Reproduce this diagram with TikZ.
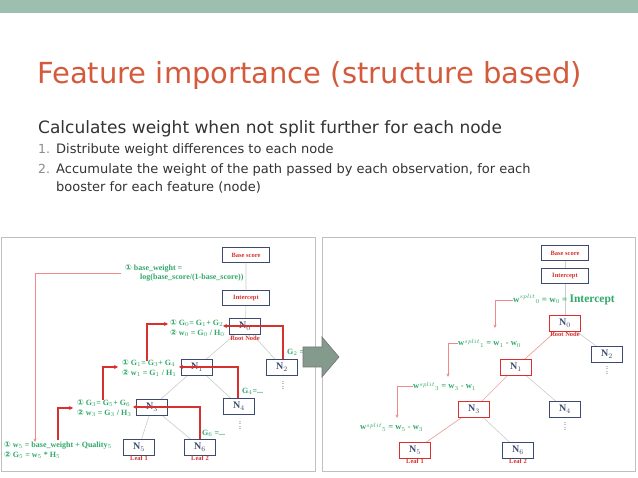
\documentclass[tikz,border=0pt]{standalone}
\usepackage{fontspec}
\setmainfont{DejaVu Sans}
\newfontfamily\tms{Liberation Serif}
\newfontfamily\dv{DejaVu Sans}
\usetikzlibrary{arrows.meta}
\definecolor{ttl}{HTML}{D45A3C}
\definecolor{grn}{HTML}{2FA86A}
\definecolor{rd}{HTML}{D8302E}
\definecolor{nv}{HTML}{3C4A6E}
\definecolor{bar}{HTML}{9CBFAF}
\definecolor{pnk}{HTML}{F08A8A}
\definecolor{marr}{HTML}{849A8C}
\begin{document}
\begin{tikzpicture}[x=1pt,y=-1pt,
 nbox/.style={draw=nv,line width=0.8pt,fill=white,minimum width=31pt,minimum height=16pt,inner sep=0pt,font=\tms\bfseries\fontsize{10}{10}\selectfont,text=nv},
 rbox/.style={nbox,draw=rd},
 sbox/.style={draw=nv,line width=0.8pt,fill=white,minimum width=47pt,minimum height=15pt,inner sep=0pt,font=\tms\bfseries\fontsize{6.5}{7}\selectfont,text=rd},
 gtxt/.style={font=\tms\bfseries\fontsize{8}{9.5}\selectfont,text=grn,inner sep=0pt,align=left},
 ltxt/.style={font=\tms\bfseries\fontsize{6.5}{7}\selectfont,text=rd,inner sep=0pt},
 glink/.style={draw=black!20,line width=0.6pt},
 rlink/.style={draw=rd!45,line width=0.7pt},
 rarr/.style={draw=rd,line width=1.3pt,-{Stealth[length=4pt,width=4pt]}},
 parr/.style={draw=pnk,line width=0.7pt,-{Stealth[length=3.5pt,width=3pt]}},
 dots/.style={font=\tms\bfseries\fontsize{6}{6}\selectfont,text=nv,inner sep=0pt,align=center},
 panel/.style={draw=black!25,line width=1pt,fill=white}]
\useasboundingbox (0,0) rectangle (638,478);
\fill[white] (0,0) rectangle (638,478);
\fill[bar] (0,0) rectangle (638,13);
\node[anchor=base west,inner sep=0pt,text=ttl,font=\fontsize{29}{30}\selectfont] (title) at (37,84) {Feature importance (structure based)};
\node[anchor=base west,inner sep=0pt,text=black!80,font=\fontsize{17}{18}\selectfont] (l0) at (38,134) {Calculates weight when not split further for each node};
\node[anchor=base west,inner sep=0pt,text=black!45,font=\fontsize{12.5}{13}\selectfont] (n1) at (38,154) {1.};
\node[anchor=base west,inner sep=0pt,text=black!80,font=\fontsize{13}{13}\selectfont] (l1) at (56,154) {Distribute weight differences to each node};
\node[anchor=base west,inner sep=0pt,text=black!45,font=\fontsize{12.5}{13}\selectfont] (n2) at (38,174) {2.};
\node[anchor=base west,inner sep=0pt,text=black!80,font=\fontsize{13}{13}\selectfont] (l2) at (56,174) {Accumulate the weight of the path passed by each observation, for each};
\node[anchor=base west,inner sep=0pt,text=black!80,font=\fontsize{13}{13}\selectfont] (l3) at (56,192) {booster for each feature (node)};
% panels
\draw[panel] (1,238) rectangle (315,472);
\draw[panel] (322,238) rectangle (635,472);
% ---------- left panel ----------
\coordinate (a0) at (245,326);
\coordinate (a1) at (197,367);
\coordinate (a2) at (282,367);
\coordinate (a3) at (152,407);
\coordinate (a4) at (239,406);
\coordinate (a5) at (139,447);
\coordinate (a6) at (200,447);
\node[sbox] (bs) at (246,255) {Base score};
\node[sbox] (ic) at (246,298) {Intercept};
\path[glink] (bs) -- (ic) (ic.south) -- ([yshift=-8pt]a0);
\path[glink] (a0) -- (a1) (a0) -- (a2) (a1) -- (a3) (a1) -- (a4) (a3) -- (a5) (a3) -- (a6);
\node[nbox] (n0) at (a0) {N$_0$};\node[nbox] (nn1) at (a1) {N$_1$};\node[nbox] (nn2) at (a2) {N$_2$};
\node[nbox] (nn3) at (a3) {N$_3$};\node[nbox] (nn4) at (a4) {N$_4$};\node[nbox] (nn5) at (a5) {N$_5$};\node[nbox] (nn6) at (a6) {N$_6$};
\node[ltxt] (rn) at (245,338) {Root Node};
\node[ltxt] (lf1) at (139,458) {Leaf 1};
\node[ltxt] (lf2) at (200,458) {Leaf 2};
\node[gtxt,anchor=west] (t0) at (125,273) {{\dv ①} base\_weight =\\\hspace*{15pt}log(base\_score/(1-base\_score))};
\node[gtxt,anchor=west] (t1) at (170,328) {{\dv ①} G$_0$= G$_1$+ G$_2$\\{\dv ②} w$_0$ = G$_0$ / H$_0$};
\node[gtxt,anchor=west] (t2) at (122,368) {{\dv ①} G$_1$= G$_3$+ G$_4$\\{\dv ②} w$_1$ = G$_1$ / H$_1$};
\node[gtxt,anchor=west] (t3) at (77,408) {{\dv ①} G$_3$= G$_5$+ G$_6$\\{\dv ②} w$_3$ = G$_3$ / H$_3$};
\node[gtxt,anchor=west] (t4) at (4,450) {{\dv ①} w$_5$ = base\_weight + Quality$_5$\\{\dv ②} G$_5$ = w$_5$ * H$_5$};
\node[gtxt,anchor=west] (g2) at (287,352) {G$_2$ =};
\node[gtxt,anchor=west] (g4) at (242,391) {G$_4$=...};
\node[gtxt,anchor=west] (g6) at (202,433) {G$_6$ =...};
\node[dots] (d2) at (283,386) {:\\[-1pt]:};
\node[dots] (d4) at (240,426) {:\\[-1pt]:};
\draw[rarr] (nn2.north) ++(1,0) |- (223,326);
\draw[rarr] (238,398) |- (179,367);
\draw[rarr] (nn6.north) |- (133,407);
\draw[rarr] (147,361) |- (168,324);
\draw[rarr] (103,400) |- (118,367);
\draw[rarr] (58,440) |- (73,408);
\draw[parr] (121,273) -- (35,273) -- (35,442);
% middle arrow
\draw[fill=marr,draw=black!55,line width=0.6pt] (303,347) -- (322,347) -- (322,337) -- (339,357) -- (322,377) -- (322,367) -- (303,367) -- cycle;
% ---------- right panel ----------
\coordinate (b0) at (565,323);
\coordinate (b1) at (516,367);
\coordinate (b2) at (607,354);
\coordinate (b3) at (474,409);
\coordinate (b4) at (565,409);
\coordinate (b5) at (415,450);
\coordinate (b6) at (518,450);
\node[sbox] (rbs) at (565,253) {Base score};
\node[sbox] (ric) at (565,276) {Intercept};
\path[glink] (rbs) -- (ric) (ric.south) -- ([yshift=-8pt]b0);
\path[rlink] (b0) -- (b1) (b1) -- (b3) (b3) -- (b5);
\path[glink] (b0) -- (b2) (b1) -- (b4) (b3) -- (b6);
\node[rbox] (m0) at (b0) {N$_0$};\node[rbox] (m1) at (b1) {N$_1$};\node[nbox] (m2) at (b2) {N$_2$};
\node[rbox] (m3) at (b3) {N$_3$};\node[nbox] (m4) at (b4) {N$_4$};\node[rbox] (m5) at (b5) {N$_5$};\node[nbox] (m6) at (b6) {N$_6$};
\node[ltxt] (rrn) at (565,334) {Root Node};
\node[ltxt] (rl1) at (415,461) {Leaf 1};
\node[ltxt] (rl2) at (518,461) {Leaf 2};
\node[gtxt,anchor=west,font=\tms\bfseries\fontsize{9}{9}\selectfont] (s0) at (513,300) {w$^{split}$$_0$ = w$_0$ = {\fontsize{11.5}{11}\selectfont Intercept}};
\node[gtxt,anchor=west,font=\tms\bfseries\fontsize{8.5}{9}\selectfont] (s1) at (458,343) {w$^{split}$$_1$ = w$_1$ - w$_0$};
\node[gtxt,anchor=west,font=\tms\bfseries\fontsize{8.5}{9}\selectfont] (s3) at (413,386) {w$^{split}$$_3$ = w$_3$ - w$_1$};
\node[gtxt,anchor=west,font=\tms\bfseries\fontsize{8.5}{9}\selectfont] (s5) at (360,427) {w$^{split}$$_5$ = w$_5$ - w$_3$};
\draw[parr] (s0.west) -- (495,300) -- (495,328);
\draw[parr] (s1.west) -- (448,343) -- (448,377);
\draw[parr] (s3.west) -- (397,386) -- (397,418);
\node[dots] (e2) at (607,371) {:\\[-1pt]:};
\node[dots] (e4) at (565,427) {:\\[-1pt]:};
\end{tikzpicture}
\end{document}
